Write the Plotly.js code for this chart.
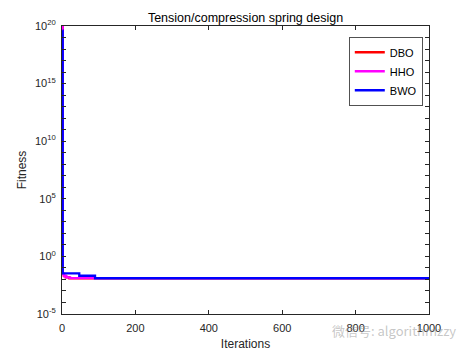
<!DOCTYPE html>
<html>
<head>
<meta charset="utf-8">
<script src="https://cdn.plot.ly/plotly-3.0.1.min.js"></script>
<style>html,body{margin:0;padding:0;background:#fff;}#chart{width:474px;height:355px;}</style>
</head>
<body>
<div id="chart"></div>
<script>
// Convergence curves (change points; held constant between points)
const dboIter = [1, 2, 5, 10, 20, 1000];
const dboFit  = [8e19, 0.030, 0.020, 0.015, 0.0127, 0.012667];
const hhoIter = [1, 2, 6, 12, 22, 1000];
const hhoFit  = [1e20, 0.028, 0.019, 0.015, 0.0128, 0.012670];
const bwoIter = [1, 2, 47, 90, 1000];
const bwoFit  = [4e19, 0.034, 0.021, 0.0127, 0.012665];

const yExp = [];
for (let e = -5; e <= 20; e++) yExp.push(e);
const yTickVals = yExp.map(e => Math.pow(10, e));
const yTickText = yExp.map(e => (e % 5 === 0) ? ('10<sup>' + e + '</sup>') : '');
const xTickVals = [0, 200, 400, 600, 800, 1000];

const font = 'Liberation Sans, Arial, sans-serif';
const mk = (x, y, name, color) => ({x: x, y: y, name: name, type: 'scatter', mode: 'lines',
  line: {color: color, width: 2.3, shape: 'hv'}});

const data = [
  mk(dboIter, dboFit, 'DBO', '#ff0000'),
  mk(hhoIter, hhoFit, 'HHO', '#ff00ff'),
  mk(bwoIter, bwoFit, 'BWO', '#0000ff')
];

const axisCommon = {showgrid: false, zeroline: false, showline: true, linecolor: '#262626', linewidth: 1,
  mirror: 'ticks', ticks: 'inside', ticklen: 4, tickcolor: '#262626',
  tickfont: {family: font, size: 11, color: '#262626'}};

const layout = {
  width: 474, height: 355,
  margin: {l: 62, r: 45, t: 26, b: 41},
  paper_bgcolor: '#fff', plot_bgcolor: '#fff',
  title: {text: 'Tension/compression spring design', font: {family: font, size: 12.5, color: '#000'},
    x: 0.5, xref: 'paper', y: 0.95, yref: 'container', yanchor: 'middle'},
  xaxis: Object.assign({}, axisCommon, {range: [0, 1000], tickvals: xTickVals, ticktext: xTickVals.map(String),
    ticklabelstandoff: 4,
    title: {text: 'Iterations', font: {family: font, size: 12, color: '#262626'}, standoff: 6}}),
  yaxis: Object.assign({}, axisCommon, {type: 'log', range: [-5, 20], tickvals: yTickVals, ticktext: yTickText,
    ticklabelstandoff: 3,
    title: {text: 'Fitness', font: {family: font, size: 12, color: '#262626'}, standoff: 5}}),
  showlegend: true,
  legend: {x: 0.782, y: 0.962, xanchor: 'left', yanchor: 'top', bgcolor: '#fff',
    bordercolor: '#262626', borderwidth: 0.8, font: {family: font, size: 11, color: '#000'},
    tracegroupgap: 0, itemwidth: 30},
  annotations: [{text: '微信号: algorithmzzy', xref: 'paper', yref: 'paper', x: 1.079, y: -0.056,
    xanchor: 'right', yanchor: 'middle', showarrow: false,
    font: {family: 'Noto Sans CJK SC, sans-serif', size: 13, color: 'rgba(150,150,150,0.55)'}}]
};

Plotly.newPlot('chart', data, layout, {displayModeBar: false, staticPlot: true});
</script>
</body>
</html>
